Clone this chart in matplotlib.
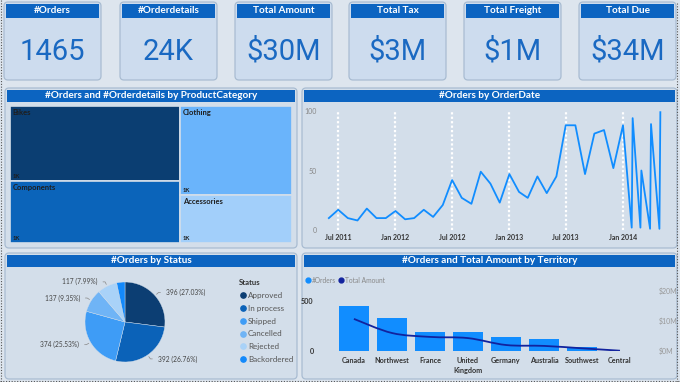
import matplotlib
matplotlib.use("Agg")
import matplotlib.pyplot as plt
import matplotlib.dates as mdates
from matplotlib.patches import FancyBboxPatch, Rectangle, PathPatch
from matplotlib.path import Path
from matplotlib.lines import Line2D
import numpy as np
import pandas as pd

plt.rcParams['font.family'] = ['Lato', 'DejaVu Sans']

# --- data ---
kpi_titles = ["#Orders", "#Orderdetails", "Total Amount", "Total Tax", "Total Freight", "Total Due"]
kpi_values = ["1465", "24K", "$30M", "$3M", "$1M", "$34M"]

categories = ["Bikes", "Components", "Clothing", "Accessories"]
cat_orders = [1180, 980, 920, 500]
cat_labels = ["1K", "1K", "1K", "1K"]

month_counts = [10, 17, 10, 8, 18, 10, 10, 16, 9, 10, 17, 11,
                21, 42, 27, 22, 49, 39, 23, 47, 32, 27, 45, 31,
                45, 88, 88, 47, 81, 84, 52, 88]
tail_dates = ["2014-01-29", "2014-02-01", "2014-02-26", "2014-03-01",
              "2014-03-29", "2014-04-01", "2014-04-28", "2014-05-01"]
tail_counts = [2, 94, 2, 50, 1, 89, 1, 99]

statuses = ["Approved", "In process", "Shipped", "Cancelled", "Rejected", "Backordered"]
status_counts = [396, 392, 374, 137, 117, 49]
status_colors = ["#0c3e73", "#0b62b8", "#3e9cf6", "#6fb4f6", "#a9d2f8", "#1389fb"]

territories = ["Canada", "Northwest", "France", "United\nKingdom", "Germany",
               "Australia", "Southwest", "Central"]
terr_orders = [450, 330, 190, 190, 140, 120, 40, 5]
terr_amount = [10.7, 6.0, 4.7, 4.3, 2.0, 1.7, 0.9, 0.1]  # $M

# --- colours ---
BG = "#dde5ee"
PANEL = "#d3deea"
EDGE = "#a9bcd2"
BAR = "#0c64c1"
W, H = 680, 382

fig = plt.figure(figsize=(6.8, 3.82), dpi=100, facecolor=BG)
bg = fig.add_axes([0, 0, 1, 1])
bg.set_xlim(0, W)
bg.set_ylim(H, 0)
bg.axis("off")


def px_axes(x, y, w, h):
    return fig.add_axes([x / W, 1 - (y + h) / H, w / W, h / H])


def panel(x, y, w, h, title, bar_h=12, fs=7.2, fc=PANEL):
    bg.add_patch(FancyBboxPatch((x, y), w, h, boxstyle="round,pad=0,rounding_size=4",
                                fc=fc, ec=EDGE, lw=0.9))
    bg.add_patch(Rectangle((x + 2, y + 1.5), w - 4, bar_h, fc=BAR, ec="none"))
    bg.text(x + w / 2, y + 1.5 + bar_h / 2, title, color="white", fontsize=fs,
            fontweight="bold", ha="center", va="center")


# page border dots
bg.plot([1, 1], [0, H], color="#555555", lw=0.8, ls=(0, (1, 1.5)))
bg.plot([677, 677], [3, H], color="#555555", lw=0.8, ls=(0, (1, 1.5)))
bg.plot([0, W], [380.5, 380.5], color="#555555", lw=0.8, ls=(0, (1, 1.5)))

# KPI cards
card_x = [4, 120, 235, 349, 464, 579]
for cx, t, v in zip(card_x, kpi_titles, kpi_values):
    panel(cx, 2, 97, 78, t, bar_h=14, fs=7.2, fc="#cddcee")
    bg.text(cx + 48.5, 52, v, color="#1a69c2", fontsize=21, ha="center", va="center",
            family=["Roboto", "DejaVu Sans"])

# big panels
panel(5, 88, 292, 160, "#Orders and #Orderdetails by ProductCategory", bar_h=12)
panel(302, 88, 375, 160, "#Orders by OrderDate", bar_h=12)
panel(5, 253, 292, 126, "#Orders by Status", bar_h=12)
panel(302, 253, 375, 126, "#Orders and Total Amount by Territory", bar_h=12)

# --- treemap ---
tm = px_axes(10, 106, 282, 137)
tm.set_xlim(0, 1)
tm.set_ylim(0, 1)
tm.axis("off")
tm_colors = ["#0b3e72", "#0b64ba", "#6ab4fb", "#a2cffa"]
total = sum(cat_orders)
left_w = (cat_orders[0] + cat_orders[1]) / total
cols = [(0, left_w, cat_orders[0:2]), (left_w, 1 - left_w, cat_orders[2:4])]
k = 0
for x0, w, vals in cols:
    top = 1.0
    for val in vals:
        hgt = val / sum(vals)
        tm.add_patch(Rectangle((x0, top - hgt), w, hgt, fc=tm_colors[k], ec=PANEL, lw=1.2))
        tm.annotate(categories[k], (x0, top), xytext=(2, -2.5), textcoords="offset points",
                    ha="left", va="top", fontsize=5.5, fontweight="bold", color="#1e1e1e")
        tm.annotate(cat_labels[k], (x0, top - hgt), xytext=(2, 1.5), textcoords="offset points",
                    ha="left", va="bottom", fontsize=4.2, fontweight="bold", color="#1e1e1e")
        top -= hgt
        k += 1

# --- line chart ---
lx = px_axes(322, 111, 348, 119)
dates = list(pd.date_range("2011-06-01", "2014-01-01", freq="MS")) + list(pd.to_datetime(tail_dates))
counts = month_counts + tail_counts
lx.plot(dates, counts, color="#118dff", lw=1.3, clip_on=False)
lx.set_facecolor("none")
lx.set_ylim(0, 100)
lx.set_xlim(pd.Timestamp("2011-05-10"), pd.Timestamp("2014-06-01"))
lx.set_yticks([0, 50, 100])
lx.xaxis.set_major_locator(mdates.MonthLocator(bymonth=[1, 7]))
lx.xaxis.set_major_formatter(mdates.DateFormatter("%b %Y"))
lx.tick_params(axis="y", length=0, labelsize=5, labelcolor="#888888", pad=4)
lx.tick_params(axis="x", length=0, labelsize=5, labelcolor="#333333", pad=3)
for lab in lx.get_xticklabels():
    lab.set_fontweight("bold")
lx.grid(axis="x", color="white", lw=1.6, ls=(0, (1, 1)))
for s in lx.spines.values():
    s.set_visible(False)

# --- pie ---
pa = px_axes(85, 282, 80, 80)
wedges, _ = pa.pie(status_counts, colors=status_colors, startangle=90, counterclock=False,
                   wedgeprops=dict(lw=0.3, edgecolor="#d3deea"))
pa.set_xlim(-1, 1)
pa.set_ylim(-1, 1)
tot = sum(status_counts)
for wdg, cnt in zip(wedges[:5], status_counts[:5]):
    ang = np.deg2rad((wdg.theta1 + wdg.theta2) / 2)
    cx, cy = np.cos(ang), np.sin(ang)
    sx = 1 if cx > 0 else -1
    tx = sx * (abs(cx) * 1.1 + 0.2)
    ty = cy * 1.12
    pa.annotate(f"{cnt} ({cnt / tot * 100:.2f}%)", xy=(cx * 0.98, cy * 0.98), xytext=(tx, ty),
                ha="left" if sx > 0 else "right", va="center", fontsize=4.8, color="#444444",
                arrowprops=dict(arrowstyle="-", color="#888888", lw=0.5,
                                connectionstyle=f"angle,angleA=0,angleB={np.rad2deg(ang):.1f}"),
                annotation_clip=False)

handles = [Line2D([], [], marker="o", ls="none", color=c, markersize=3.8) for c in status_colors]
leg = fig.legend(handles, statuses, title="Status", loc="upper left",
                 bbox_to_anchor=(236 / W, 1 - 276 / H), frameon=False, fontsize=5.8,
                 title_fontsize=5.6, labelspacing=0.72, handletextpad=0.1, handlelength=1.0,
                 borderaxespad=0, alignment="left")
leg.get_title().set_fontweight("bold")
leg.get_title().set_color("#333333")
for t in leg.get_texts():
    t.set_color("#555555")

# --- bar + line ---
ba = px_axes(322, 285, 328, 66)
xpos = np.arange(len(territories))
ba.bar(xpos, terr_orders, width=0.78, color="#118dff")
ba.set_xlim(-0.84, 7.79)
ba.set_ylim(0, 660)
ba.set_yticks([0, 500])
ba.set_xticks(xpos)
ba.set_xticklabels(territories, fontsize=5.2, fontweight="bold", color="#333333", linespacing=1.5)
ba.tick_params(axis="both", length=0)
ba.tick_params(axis="x", pad=4)
ba.tick_params(axis="y", labelsize=5.2, labelcolor="#333333", pad=6)
for lab in ba.get_yticklabels():
    lab.set_fontweight("bold")
ba.set_facecolor("none")
for s in ba.spines.values():
    s.set_visible(False)
b2 = ba.twinx()
# smooth line through the amounts (Catmull-Rom as cubic beziers)
pts = np.column_stack([xpos, terr_amount]).astype(float)
verts = [pts[0]]
codes = [Path.MOVETO]
for i in range(len(pts) - 1):
    p0 = pts[max(i - 1, 0)]
    p1, p2 = pts[i], pts[i + 1]
    p3 = pts[min(i + 2, len(pts) - 1)]
    verts += [p1 + (p2 - p0) / 6, p2 - (p3 - p1) / 6, p2]
    codes += [Path.CURVE4] * 3
b2.add_patch(PathPatch(Path(verts, codes), fill=False, ec="#12239e", lw=1.3))
b2.set_ylim(0, 22)
b2.set_yticks([0, 10, 20])
b2.set_yticklabels(["$0M", "$10M", "$20M"])
b2.tick_params(axis="y", length=0, labelsize=5, labelcolor="#999999", pad=6)
for s in b2.spines.values():
    s.set_visible(False)

bh = [Line2D([], [], marker="o", ls="none", color="#118dff", markersize=3.5),
      Line2D([], [], marker="o", ls="none", color="#12239e", markersize=3.5)]
fig.legend(bh, ["#Orders", "Total Amount"], loc="upper left", bbox_to_anchor=(303 / W, 1 - 274 / H),
           ncol=2, frameon=False, fontsize=4.8, labelcolor="#888888", handletextpad=0.3,
           handlelength=0.6, columnspacing=0.5, borderaxespad=0)

fig.savefig("out.png", dpi=100, facecolor=BG)
